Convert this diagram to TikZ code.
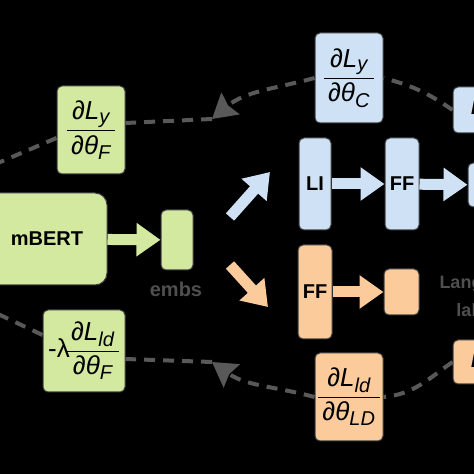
\documentclass[tikz,border=0pt]{standalone}
\usepackage{amsmath}
\usepackage{fontspec}
\setmainfont{Liberation Sans}
\usetikzlibrary{arrows.meta}
\DeclareMathSizes{26}{26}{20}{15}
\definecolor{mbgreen}{HTML}{D3E9A0}
\definecolor{mbblue}{HTML}{CFE2F5}
\definecolor{mborange}{HTML}{FBCB9C}
\definecolor{gradgray}{HTML}{595959}
\definecolor{lblgray}{HTML}{4F4F4F}
\newcommand{\mv}[1]{\text{\itshape #1}}
\newcommand{\gradfrac}[2]{\displaystyle\frac{\,\mv{∂L}_{\mv{#1}}\,}{\,\mv{∂θ}_{\mv{#2}}\,}}

\begin{document}
\begin{tikzpicture}[
    x=1pt, y=1pt,
    box/.style={rectangle, rounded corners=5pt, draw=black!75, line width=1pt,
                inner sep=0pt, align=center,
                font=\fontsize{20}{23}\selectfont\bfseries},
    gbox/.style={box, fill=mbgreen},
    bbox/.style={box, fill=mbblue},
    obox/.style={box, fill=mborange},
    gradbox/.style={font=\fontsize{26}{30}\selectfont},
    lbl/.style={text=lblgray, align=center, font=\fontsize{20}{28}\selectfont\bfseries},
    blk/.style={line width=11pt, -{Triangle[length=24pt,width=32pt]}},
    back/.style={gradgray, line width=4pt, dash pattern=on 11pt off 8pt},
    backtip/.style={-{Stealth[length=24pt,width=28pt,inset=3pt]}},
    >=Stealth
]
\useasboundingbox (0,0) rectangle (474,474);
\fill[black] (0,0) rectangle (474,474);
\clip (0,0) rectangle (474,474);

% Encoder
\node[gbox, rounded corners=12pt, minimum width=120pt, minimum height=92pt] (mbert) at (47,235) {mBERT};
\node[gbox, minimum width=32pt, minimum height=60pt] (embs) at (177,234) {};
\node[lbl] (embslbl) at (176,185) {embs};

% Gradientes hacia el encoder
\node[gbox, gradbox, minimum width=68pt, minimum height=88pt] (thetaf) at (91,344) {$\gradfrac{y}{F}$};
\node[gbox, gradbox, minimum width=82pt, minimum height=82pt] (lambda) at (84,123) {$\text{-λ}\!\gradfrac{ld}{F}$};

% Rama del clasificador
\node[bbox, minimum width=32pt, minimum height=92pt] (li) at (315,290) {LI};
\node[bbox, minimum width=34pt, minimum height=92pt] (ffb) at (402,290) {FF};
\node[bbox, minimum width=34pt, minimum height=44pt] (outb) at (485,289) {};
\node[bbox, gradbox, minimum width=68pt, minimum height=90pt] (thetac) at (349,396) {$\gradfrac{y}{C}$};
\node[bbox, gradbox, minimum width=60pt, minimum height=46pt] (ly) at (483,364) {$\mv{L}_{\mv{y}}$};

% Rama del discriminador de idioma
\node[obox, minimum width=34pt, minimum height=94pt] (ffo) at (315,182) {FF};
\node[obox, minimum width=35pt, minimum height=46pt] (outo) at (401.5,182) {};
\node[lbl, font=\fontsize{18}{28}\selectfont\bfseries] (langlbl) at (482,178) {Language\\labels};
\node[obox, gradbox, minimum width=68pt, minimum height=88pt] (thetald) at (349,77) {$\gradfrac{ld}{LD}$};
\node[obox, gradbox, minimum width=66pt, minimum height=44pt] (lld) at (486,112) {$\mv{L}_{\mv{ld}}$};

\coordinate (bu0) at (230,257);
\coordinate (bu1) at (270,302);
\coordinate (ou0) at (230,209);
\coordinate (ou1) at (268,167);
\coordinate (tipu) at (212,355);
\coordinate (tipl) at (212,112);
\coordinate (endu) at (-2,311);
\coordinate (endl) at (-2,160);

% Flechas
\draw[blk, mbgreen] (mbert) -- (embs);
\draw[blk, mbblue] (bu0) -- (bu1);
\draw[blk, mborange] (ou0) -- (ou1);
\draw[blk, mbblue] (li) -- (ffb);
\draw[blk, mbblue] (ffb) -- (outb);
\draw[blk, mborange] (ffo) -- (outo);

% Retropropagacion
\draw[back] (ly.west) to[out=145, in=-15] (thetac.east);
\draw[back, backtip] (thetac.west) to[out=195, in=40] (tipu);
\draw[back] (tipu) -- ([yshift=7pt]thetaf.east);
\draw[back] ([yshift=-8pt]thetaf.west) -- (endu);

\draw[back] (lld.west) to[out=215, in=5] (thetald.east);
\draw[back, backtip] (thetald.west) to[out=165, in=-35] (tipl);
\draw[back] (tipl) -- ([yshift=-8pt]lambda.east);
\draw[back] ([yshift=16pt]lambda.west) -- (endl);

\end{tikzpicture}
\end{document}
